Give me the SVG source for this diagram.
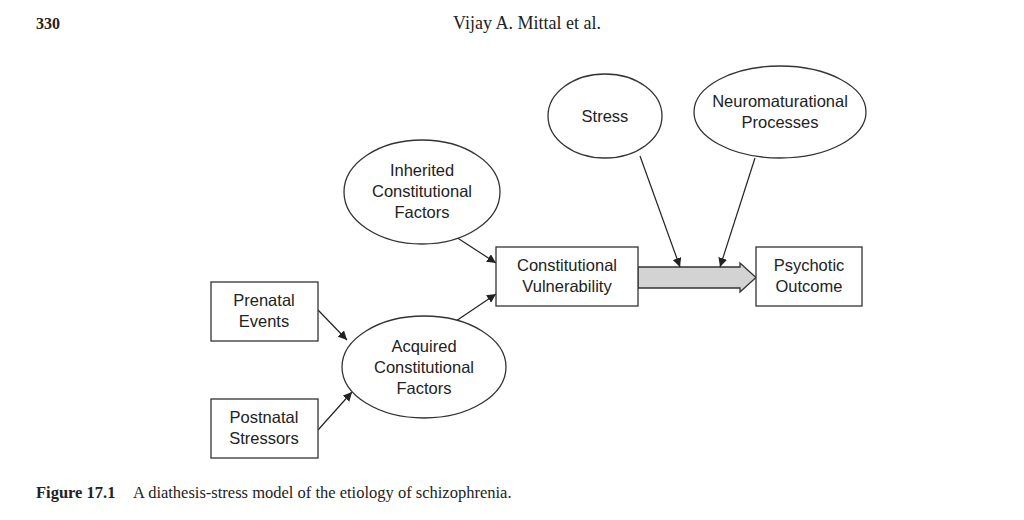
<svg xmlns="http://www.w3.org/2000/svg" width="1024" height="520" viewBox="0 0 1024 520">
<style>
.n{fill:#fff;stroke:#333;stroke-width:1.3}
.t{font-family:"Liberation Sans",Arial,sans-serif;font-size:16.5px;fill:#222;text-anchor:middle}
.s{font-family:"Liberation Serif","Times New Roman",serif;fill:#222}
.c{stroke:#222;stroke-width:1.2;fill:none;marker-end:url(#a)}
</style>
<defs><marker id="a" viewBox="0 0 10 10" refX="10" refY="5" markerWidth="9" markerHeight="9" markerUnits="userSpaceOnUse" orient="auto"><path d="M0,0L10,5L0,10z" fill="#222"/></marker></defs>
<rect width="1024" height="520" fill="#fff"/>
<text class="s" x="36" y="29" font-size="16" font-weight="bold">330</text>
<text class="s" x="527" y="29" font-size="18" text-anchor="middle">Vijay A. Mittal et al.</text>
<text class="s" x="36" y="498" font-size="16.5"><tspan font-weight="bold">Figure 17.1</tspan><tspan x="133">A diathesis-stress model of the etiology of schizophrenia.</tspan></text>
<g id="connectors">
<path d="M638,267H740V263L756,277.5L740,292V288H638Z" fill="#d3d3d3" stroke="#333" stroke-width="1.3"/>
<line class="c" x1="456" y1="237" x2="496" y2="263"/>
<line class="c" x1="456" y1="321" x2="496" y2="294"/>
<line class="c" x1="318" y1="310" x2="347" y2="340"/>
<line class="c" x1="318" y1="430" x2="352" y2="392"/>
<line class="c" x1="640" y1="156" x2="680" y2="267"/>
<line class="c" x1="755" y1="158" x2="720" y2="267"/>
</g>
<g id="stress"><ellipse class="n" cx="605" cy="116" rx="57" ry="42"/><text class="t" x="605" y="122">Stress</text></g>
<g id="neuro"><ellipse class="n" cx="780" cy="112" rx="86" ry="46"/><text class="t" x="780" y="107">Neuromaturational</text><text class="t" x="780" y="128">Processes</text></g>
<g id="inherited"><ellipse class="n" cx="422" cy="192" rx="78" ry="52"/><text class="t" x="422" y="176">Inherited</text><text class="t" x="422" y="197">Constitutional</text><text class="t" x="422" y="218">Factors</text></g>
<g id="acquired"><ellipse class="n" cx="424" cy="367" rx="82" ry="51"/><text class="t" x="424" y="352">Acquired</text><text class="t" x="424" y="373">Constitutional</text><text class="t" x="424" y="394">Factors</text></g>
<g id="cv"><rect class="n" x="496" y="247" width="142" height="59"/><text class="t" x="567" y="271">Constitutional</text><text class="t" x="567" y="292">Vulnerability</text></g>
<g id="po"><rect class="n" x="756" y="247" width="106" height="59"/><text class="t" x="809" y="271">Psychotic</text><text class="t" x="809" y="292">Outcome</text></g>
<g id="prenatal"><rect class="n" x="211" y="282" width="107" height="59"/><text class="t" x="264" y="306">Prenatal</text><text class="t" x="264" y="327">Events</text></g>
<g id="postnatal"><rect class="n" x="211" y="399" width="107" height="59"/><text class="t" x="264" y="423">Postnatal</text><text class="t" x="264" y="444">Stressors</text></g>
</svg>
